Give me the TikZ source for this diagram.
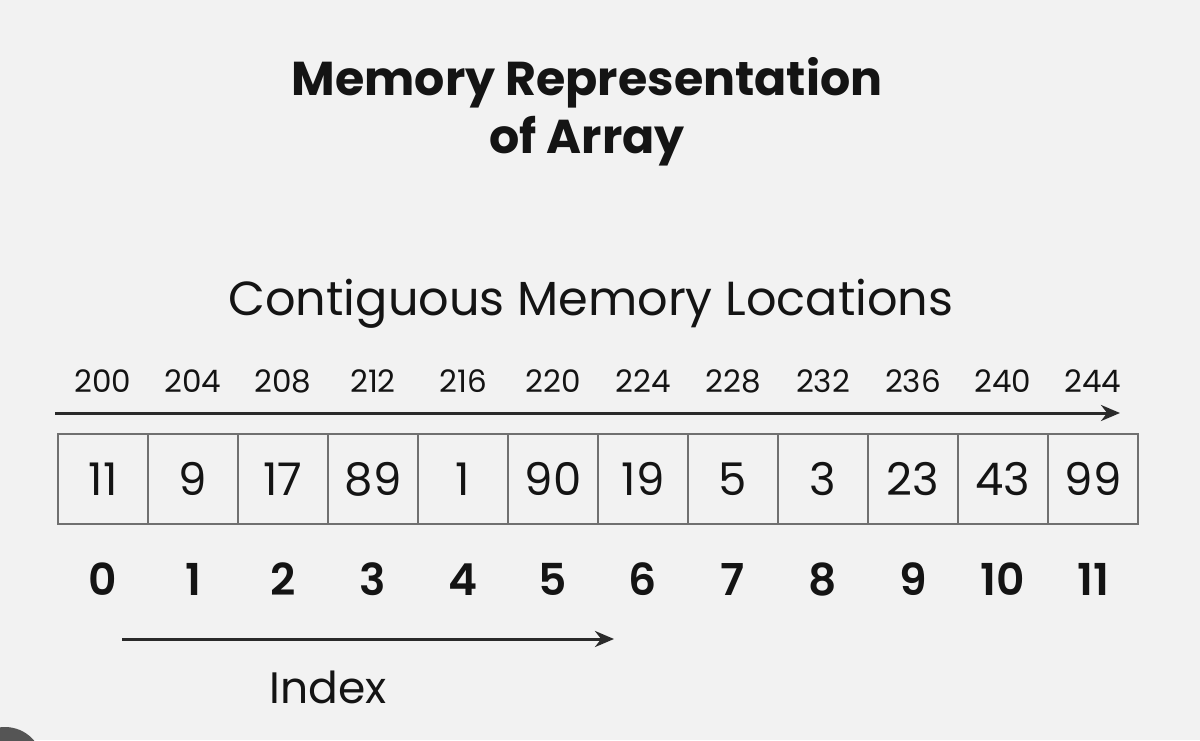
\documentclass[tikz,border=0pt]{standalone}
\usepackage{fontspec}
\setmainfont{Poppins}
\IfFontExistsTF{Poppins SemiBold}
	{\newfontfamily\idxfont{Poppins SemiBold}}
	{\IfFontExistsTF{Poppins Medium}
		{\newfontfamily\idxfont{Poppins Medium}}
		{\newfontfamily\idxfont{Poppins}[FakeBold=2]}}
\usetikzlibrary{arrows.meta}
\definecolor{PageGray}{HTML}{F2F2F2}
\definecolor{InkBlack}{HTML}{141414}
\definecolor{CellLine}{HTML}{707070}
\definecolor{ArrowInk}{HTML}{2A2A2A}
\definecolor{CornerDot}{HTML}{555555}

\tikzset{
Cell/.style={draw=CellLine, line width=1.8pt, minimum width=90pt, minimum height=90pt,
        inner sep=0pt, text=InkBlack, font=\fontsize{45}{45}\selectfont},
Addr/.style={anchor=base, inner sep=0pt, text=InkBlack, font=\fontsize{31}{31}\selectfont},
Idx/.style={anchor=base, inner sep=0pt, text=InkBlack, font=\fontsize{44}{44}\idxfont},
MemoryArrow/.style={arrows={-Stealth[length=19pt,width=16pt]},draw=ArrowInk,line width=3pt},
ArrayTitle/.style={anchor=base, inner sep=0pt, align=center, text=InkBlack},
}

\begin{document}
\begin{tikzpicture}[x=1pt,y=-1pt]
	\fill[PageGray] (0,0) rectangle (1200,740);
	\useasboundingbox (0,0) rectangle (1200,740);
	\fill[CornerDot] (5,765) circle (38pt);

	% titles
	\node[ArrayTitle, font=\fontsize{47.5}{58}\selectfont\bfseries] (Title) at (587,153) {Memory Representation\\of Array};
	\node[ArrayTitle, font=\fontsize{47.8}{47.8}\selectfont] (Sub) at (591,315) {Contiguous Memory Locations};

	% addresses and the memory array
	\foreach \a [count=\i from 0] in {200,204,208,212,216,220,224,228,232,236,240,244}
		\node[Addr] (A\i) at (103+90*\i,392) {\a};
	\coordinate (AddrTail) at (55,413);
	\coordinate (AddrHead) at (1120,413);
	\draw[MemoryArrow] (AddrTail) -- (AddrHead);
	\foreach \v [count=\i from 0] in {11,9,17,89,1,90,19,5,3,23,43,99}
		\node[Cell] (C\i) at (103+90*\i,479) {\raisebox{-4pt}{\v}};

	% indices
	\foreach \i in {0,...,11}
		\node[Idx] (X\i) at (103+90*\i,595) {\i};
	\coordinate (IdxTail) at (122,639);
	\coordinate (IdxHead) at (614,639);
	\draw[MemoryArrow] (IdxTail) -- (IdxHead);
	\node[ArrayTitle, font=\fontsize{44}{44}\selectfont] (IndexLabel) at (328,703) {Index};
\end{tikzpicture}
\end{document}
